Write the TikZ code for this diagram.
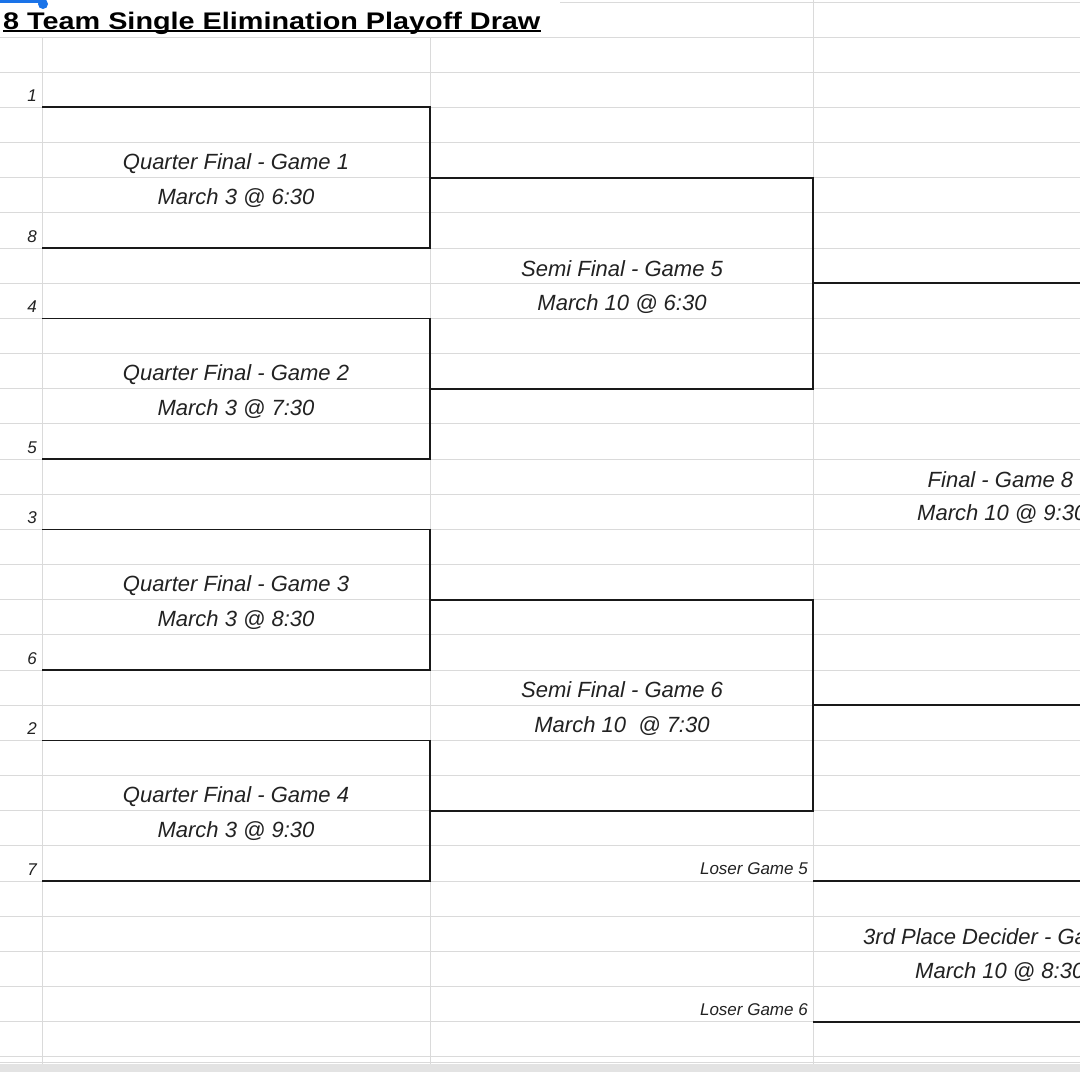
\documentclass[tikz,border=0pt]{standalone}
\usepackage{fontspec}
\setmainfont{Liberation Sans}
\usetikzlibrary{calc}
\definecolor{gridc}{HTML}{DADADA}
\definecolor{selblue}{HTML}{1A73E8}
\definecolor{txt}{HTML}{222222}
\begin{document}
\begin{tikzpicture}[x=1pt,y=-1pt,
  gridline/.style={draw=gridc, line width=1pt},
  br/.style={draw=black!90, line width=1.7pt},
  lbl/.style={font=\fontsize{22}{26}\selectfont\itshape, text=txt, inner sep=0, anchor=base},
  lblw/.style={font=\fontsize{22}{26}\selectfont\itshape, text=txt, inner sep=0, anchor=base west},
  seed/.style={font=\fontsize{17}{20}\selectfont\itshape, text=txt, inner sep=0, anchor=base east}]
\useasboundingbox (0,0) rectangle (1080,1072);
\fill[white] (0,0) rectangle (1080,1072);
\begin{scope}
\clip (0,0) rectangle (1080,1072);
% grid
\foreach \k in {0,...,29} \draw[gridline] (0,{37+35.17*\k}) -- (1080,{37+35.17*\k});
\draw[gridline] (0,1062) -- (1080,1062);
\draw[gridline] (560,2.5) -- (1080,2.5);
\draw[gridline] (42,37) -- (42,1064);
\draw[gridline] (430,37) -- (430,1064);
\draw[gridline] (813,0) -- (813,1064);
\fill[gray!22] (0,1064) rectangle (1080,1072);
% selection marker
\fill[selblue] (0,0) rectangle (40,3);
\fill[selblue] (43,4) circle (5);
% title
\node[inner sep=0, anchor=base west, text=black, font=\fontsize{24}{28}\selectfont\bfseries] (title) at (3,29.5) {\scalebox{1.2}[1]{8 Team Single Elimination Playoff Draw}};
\draw[line width=2.2pt, black] ([yshift=-1.7pt]title.base west) -- ([yshift=-1.7pt]title.base east);
% coordinates
\coordinate (s1) at (42,107.3);
\coordinate (s8) at (42,248.0);
\coordinate (s4) at (42,318.4);
\coordinate (s5) at (42,459.0);
\coordinate (s3) at (42,529.4);
\coordinate (s6) at (42,670.1);
\coordinate (s2) at (42,740.4);
\coordinate (s7) at (42,881.1);
\coordinate (q1) at (430,177.7);
\coordinate (q2) at (430,388.7);
\coordinate (q3) at (430,599.7);
\coordinate (q4) at (430,810.7);
\coordinate (f5) at (813,283.2);
\coordinate (f6) at (813,705.2);
\coordinate (e5) at (1080,283.2);
\coordinate (e6) at (1080,705.2);
\coordinate (l5) at (813,881.1);
\coordinate (m5) at (1080,881.1);
\coordinate (l6) at (813,1021.8);
\coordinate (m6) at (1080,1021.8);
% brackets
\draw[br] (s1) -| (q1) |- (s8);
\draw[br] (s4) -| (q2) |- (s5);
\draw[br] (s3) -| (q3) |- (s6);
\draw[br] (s2) -| (q4) |- (s7);
\draw[br] (q1) -| (f5) |- (q2);
\draw[br] (q3) -| (f6) |- (q4);
\draw[br] (f5) -- (e5);
\draw[br] (f6) -- (e6);
\draw[br] (l5) -- (m5);
\draw[br] (l6) -- (m6);
% seeds
\node[seed] (n1) at (37,101.3) {1};
\node[seed] (n8) at (37,242.0) {8};
\node[seed] (n4) at (37,312.4) {4};
\node[seed] (n5) at (37,453.0) {5};
\node[seed] (n3) at (37,523.4) {3};
\node[seed] (n6) at (37,664.1) {6};
\node[seed] (n2) at (37,734.4) {2};
\node[seed] (n7) at (37,875.1) {7};
\node[seed] (lg5) at (808,874.6) {Loser Game 5};
\node[seed] (lg6) at (808,1015.3) {Loser Game 6};
% game labels
\node[lbl] (qf1a) at (236,169.7) {Quarter Final - Game 1};
\node[lbl] (qf1b) at (236,204.9) {March 3 @ 6:30};
\node[lbl] (qf2a) at (236,380.7) {Quarter Final - Game 2};
\node[lbl] (qf2b) at (236,415.9) {March 3 @ 7:30};
\node[lbl] (qf3a) at (236,591.7) {Quarter Final - Game 3};
\node[lbl] (qf3b) at (236,626.9) {March 3 @ 8:30};
\node[lbl] (qf4a) at (236,802.7) {Quarter Final - Game 4};
\node[lbl] (qf4b) at (236,837.9) {March 3 @ 9:30};
\node[lbl] (sf5a) at (622,276.2) {Semi Final - Game 5};
\node[lbl] (sf5b) at (622,310.4) {March 10 @ 6:30};
\node[lbl] (sf6a) at (622,697.7) {Semi Final - Game 6};
\node[lbl] (sf6b) at (622,732.4) {March 10 \ @ 7:30};
\node[lblw] (fa) at (927.5,487.0) {Final - Game 8};
\node[lblw] (fb) at (917,520.5) {March 10 @ 9:30};
\node[lblw] (ta) at (863,944.0) {3rd Place Decider - Ga};
\node[lblw] (tb) at (915,978.5) {March 10 @ 8:30};
\end{scope}
\end{tikzpicture}
\end{document}
